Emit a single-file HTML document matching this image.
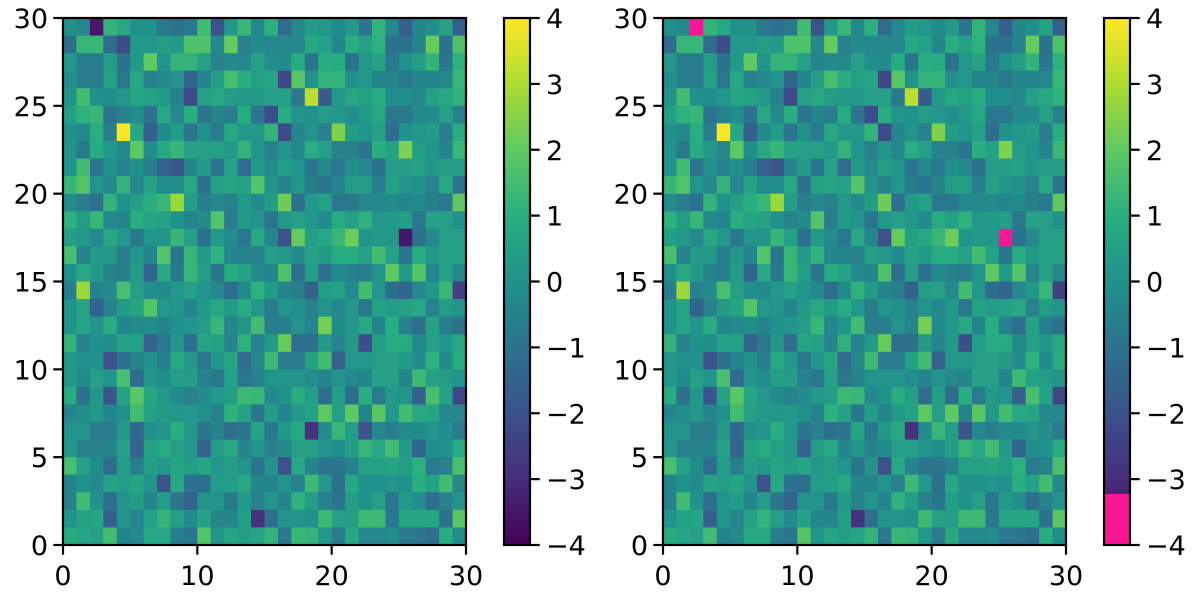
<!DOCTYPE html>
<html><head><meta charset="utf-8"><style>
html,body{margin:0;padding:0;background:#fff;}
svg{display:block;}
text{font-family:"DejaVu Sans","Liberation Sans",sans-serif;font-size:27px;fill:#000;}
</style></head><body>
<svg id="fig" width="1200" height="600" viewBox="0 0 1200 600" xmlns="http://www.w3.org/2000/svg"></svg>
<script>
// Data: rows listed from top (y=29) to bottom (y=0), columns x=0..29
const rowsTopToBottom = [
[0,-0.3,-3.5,1.2,0.8,0,0,-0.8,-1,-0.8,1.5,-2,0.2,1.3,-0.3, 1.1,-1.2,-0.3,0.4,0.2,-0.2,0.3,-0.9,1.2,-0.3,-1.6,-0.4,-0.1,0.6,-1.6],
[-1.2,1.3,1.3,-1.2,-2.2,0.2,0.2,0.4,0.3,1.7,1.7,-0.3,2.1,-0.5,-0.2, -0.3,-0.3,-0.3,0.8,0.6,-0.4,1.0,0.5,1.1,-1.0,-1.0,-0.4,2.1,-1.0,1.7],
[0.2,-0.6,-0.6,0.4,-1,0.3,2,0.1,1.2,1.2,0.5,-0.5,-0.2,-0.3,0.5, -0.1,-0.2,0.9,-0.9,1.0,0.9,-1.0,0.2,0.6,-0.8,0,0.4,1.2,-0.9,1.1],
[-0.1,-0.6,-0.6,0.6,-0.8,0.8,-0.5,-0.3,0.1,-1.4,-0.4,0.4,1.6,1.0,0.5, 0.7,-2.3,1.9,0.1,1.2,1.2,-0.1,0.2,-0.4,-0.4,-0.8,-0.4,-0.4,-0.3,1.3],
[0.1,1.5,0,-0.1,0.2,0.7,0.6,0.3,-0.5,-2.2,0.5,0.8,0.4,0.3,0.3, 0.5,0.5,-0.8,3.2,-1.7,0.2,0.8,0.6,0.9,-0.1,-0.1,-0.3,0.6,0.8,1.1],
[0.5,1.1,1.3,-0.9,-0.5,-0.1,-1.0,0.8,-0.3,1.0,-0.9,-0.4,-0.6,0.9,-0.9, -2.1,0.9,0.1,0,0.4,0.2,-0.1,0.3,0.8,-0.8,-0.8,-0.2,-0.2,0.5,-0.5],
[0,-0.3,1.0,-0.6,4,0.8,-1.6,-0.2,0.4,-0.9,0,-0.7,0.8,0.2,0.2, 1.2,-2.2,-0.4,0.1,-0.5,2.4,0.4,0.1,0.6,-1.2,0,0.2,0.4,-0.6,0.9],
[0.1,-0.8,0.9,0.2,-0.3,2.0,-0.1,0.8,1.3,0.6,0.5,0.5,0.2,1.2,0.1, -0.5,0.1,-0.3,1.0,0.5,-0.5,-0.5,-0.9,1.0,0.6,2.4,0.4,0.1,-0.4,1.3],
[0.1,1.5,-0.9,0,-0.5,0,-0.6,-1.5,-1.9,-0.4,0.3,-0.9,0.6,-1.2,0.2, -0.2,0.4,0.1,-0.9,-0.3,-0.8,0,-0.3,-1.0,0.4,0.4,0.6,0.2,0.4,0.4],
[1.3,1.8,0.1,-0.3,1.2,-0.4,0.6,-0.1,-0.1,0.8,-1.1,0.6,0.7,0.6,1.8, 0.1,-0.4,0.2,-0.6,-0.9,-0.4,0.4,0.4,-0.6,0.6,0.1,0,-0.5,0.8,-0.9],
[-0.2,-0.6,-1.0,1.2,0,0.5,1.0,1.3,2.8,0.4,-0.6,-0.3,-0.5,0.3,-0.2, 0.4,2.2,-1.1,0.2,0.6,-0.8,-0.8,-0.3,-0.3,-0.2,-0.4,-0.2,-0.6,-0.8,2.0],
[1.1,0.4,1.3,-0.3,-0.4,1.0,0.7,0.6,0,-0.4,-0.2,1.8,-0.7,0.3,0.1, -0.9,0.2,0.5,0.2,-0.2,0.9,0.5,1.1,0.2,0.3,0.4,-0.8,0.6,0.5,0],
[0.5,0.2,-0.3,0.8,0.2,-0.8,0.1,0.1,1.3,0.5,-1.0,0.3,-0.2,-0.8,0.8, -0.4,-2.0,2.1,0.5,0.8,1.3,2.2,0.1,0.3,0.2,-3.5,-1.0,-0.3,0.5,0.5],
[1.6,-0.5,0.3,0.3,-0.6,0.2,-0.4,1.8,-0.9,1.3,0.3,1.1,-0.4,-0.4,-0.5, 0.5,0.2,-0.2,0.6,0.3,0.9,0.9,0.5,1.5,0.6,-0.9,0.9,0.3,0.6,0.6],
[0,0.8,0.3,-0.4,-0.6,0.4,-1.4,0.8,-0.8,1.3,0.4,-0.9,0.9,0.6,-0.3, -0.4,1.7,-1.1,0.4,-1.0,-0.2,-0.5,-0.6,0.1,2.0,0.3,1.8,-0.4,0.6,-0.3],
[-0.6,2.8,-0.5,-0.2,1.6,0.5,-0.1,-0.2,0.2,0.5,0.1,-0.3,-1.2,-0.2,1.1, 0.3,-0.4,-0.6,-1.5,0.4,0.5,-0.3,1.5,0.2,-1.1,-1.4,-0.3,0.2,1.3,-2.5],
[0.1,0.7,-1.4,-0.5,0.3,0.7,1.8,0.2,0.1,-0.4,0.3,0.8,0.3,0.9,0.2, -0.7,0.1,0,-0.5,0.1,-0.3,0.2,-0.8,0.6,0.4,0.5,0.8,-0.5,0.4,0.1],
[0.1,0.7,0.1,1.0,-0.4,-0.2,-0.1,-0.4,0,0.1,0.4,1.3,-0.4,0.1,1.5, -0.6,-0.6,0.1,-0.4,2.3,-0.2,0.2,0.8,-0.4,1.0,-0.5,-1.1,0.6,-0.6,-1.0],
[1.2,-0.5,0,-0.1,0.6,0.6,-1.5,-0.8,0.2,-1.1,0.7,0.6,-0.5,1.1,-0.5, 0.3,2.1,-1.1,-1.1,0.3,-0.5,0.3,-2.1,0.4,0.9,0.9,-0.3,0.5,0.1,0.8],
[0.2,0,0,-2.0,-1.0,-0.4,0,-0.6,0.8,0.2,-0.8,0.1,0.7,-1.2,-0.3, 1.4,-0.6,-0.7,0.6,1.5,-1.5,0.2,0.2,0.5,0.5,0.3,-0.2,1.1,-0.2,0.9],
[0.2,-0.2,0.5,0.1,1.6,-1.2,0.1,-0.1,0.4,0.4,-0.5,-0.8,0.5,-0.8,-0.5, 0.1,0.1,0.1,-0.1,-0.4,0.1,-0.3,-0.4,0.5,0.5,-0.4,1.4,0.6,0.4,0.1],
[0.9,-1.0,0.2,-1.9,0.6,1.9,0.7,0.2,-0.2,-0.5,-0.2,0.2,0.4,1.4,1.3, -0.3,0,1.0,0.4,-1.2,0.4,-1.2,1.0,-0.7,0.3,0.1,-1.6,1.6,0.6,-2.3],
[-0.4,-0.1,0.2,-0.4,0,1.5,0.5,0.3,0.2,0.2,0,-0.5,1.1,0.5,-0.9, 0.4,-0.4,0.3,0.6,2.0,0.5,2.0,-0.4,1.9,0.2,1.5,0.8,0.7,-0.3,-0.3],
[0.1,0.1,-0.6,-0.7,0.3,-1.3,0,0.1,1.0,0.2,-0.9,-0.5,-1.1,-0.9,0.7, -0.8,0.3,0.8,-2.9,-0.2,1.3,0.4,-2.0,-0.3,-0.6,-0.2,-0.2,0.1,-0.1,-0.7],
[0.2,-0.5,-0.5,-0.4,0.5,-1.5,0.6,0.9,0.5,0.2,-1.5,0.4,0.8,-0.4,0.1, -0.5,-0.2,0.5,0.5,0.1,-0.1,0.5,1.3,0.8,1.5,0.3,-1.4,-0.1,0,0.9],
[1.6,0.5,-0.1,-1.2,0.4,-0.6,0.4,0.2,0.7,0.4,0.7,0.2,0.4,0.1,-0.9, 0.1,-2.0,0.8,-0.4,-0.9,-0.9,-0.5,0.5,0.5,0.7,0.4,1.1,-0.7,-0.5,1.6],
[-0.4,0,-0.3,0.6,0.4,0.7,0.1,-2.0,0.8,-1.0,-1.1,0.4,0.4,0.8,-0.4, -0.4,0.1,-0.5,1.4,0.2,-1.0,0.8,0,0,0.1,0,1.0,0.6,1.5,-0.3],
[-0.5,1.5,0,-1.1,0.1,0.4,-0.4,0.4,-0.9,-1.4,0.1,0.1,-0.8,0.3,-0.5, 0.1,-0.4,1.1,0.4,-0.5,-0.9,0.4,0,0.5,-0.9,0.3,-0.1,-1.2,-0.5,0.1],
[0.1,0.6,0.7,-1.6,0.1,-0.4,0.6,1.2,0.5,-0.2,0.6,-0.4,-0.4,0.4,-2.9, -1.1,0.1,0.1,0,1.4,0.5,0.4,1.4,1.4,-0.8,0.7,0.7,0.7,-1.0,1.9],
[0.9,0.7,0.5,1.5,-0.4,-0.3,0.8,0.8,-0.6,-0.9,1.8,0.1,0.7,0.4,0.7, 1.2,-0.8,1.3,1.2,0.2,-0.7,0.8,-0.3,-0.3,-0.1,-0.8,-0.9,-1.1,1.0,-0.1]
];
const xTicks = [0,10,20,30];
const yTicks = [0,5,10,15,20,25,30];
const cbTicks = [-4,-3,-2,-1,0,1,2,3,4];
const vmin = -4, vmax = 4;

const NS = "http://www.w3.org/2000/svg";
const svg = document.getElementById('fig');
const VIR = ["#440154","#472d7b","#3b528b","#2c728e","#21918c","#28ae80","#5ec962","#addc30","#fde725"];
function hex(h){return [parseInt(h.substr(1,2),16),parseInt(h.substr(3,2),16),parseInt(h.substr(5,2),16)];}
function viridis(t){
  t=Math.max(0,Math.min(1,t));
  const p=t*(VIR.length-1), i=Math.min(VIR.length-2,Math.floor(p)), f=p-i;
  const a=hex(VIR[i]), b=hex(VIR[i+1]);
  return `rgb(${a.map((v,k)=>Math.round(v+(b[k]-v)*f)).join(',')})`;
}
function pinkmap(t){ return t < 25/256 ? "#f81894" : viridis(t); }
function mk(tag, attrs, parent){
  const e=document.createElementNS(NS,tag);
  for(const k in attrs) e.setAttribute(k, attrs[k]);
  (parent||svg).appendChild(e); return e;
}
function fmt(v){ return v<0 ? "\u2212"+Math.abs(v) : String(v); }

function panel(ox, cbx, cmap, tag){
  const L=ox, R=ox+403, T=18, B=545;
  const xs=v=>L+(v/30)*(R-L), ys=v=>B-(v/30)*(B-T);
  const g=mk('g',{});
  
  
  const n=rowsTopToBottom.length;
  rowsTopToBottom.forEach((row,ri)=>{
    const yv=n-1-ri;
    row.forEach((v,ci)=>{
      const r=mk('rect',{x:xs(ci),y:ys(yv+1),width:xs(ci+1)-xs(ci)+0.6,height:ys(yv)-ys(yv+1)+0.6,fill:cmap((v-vmin)/(vmax-vmin))},g);
      
      
    });
  });
  const fr=mk('rect',{x:L,y:T,width:R-L,height:B-T,fill:'none',stroke:'#000','stroke-width':2.2});
  
  
  xTicks.forEach(v=>{
    mk('line',{x1:xs(v),x2:xs(v),y1:B,y2:B+9.7,stroke:'#000','stroke-width':2.2});
    const t=mk('text',{x:xs(v),y:B+40,'text-anchor':'middle'}); t.textContent=fmt(v);
    
    
  });
  yTicks.forEach(v=>{
    mk('line',{x1:L-9.7,x2:L,y1:ys(v),y2:ys(v),stroke:'#000','stroke-width':2.2});
    const t=mk('text',{x:L-15,y:ys(v)+10,'text-anchor':'end'}); t.textContent=fmt(v);
    
    
  });
  // colorbar
  const cw=26, cs=v=>B-((v-vmin)/(vmax-vmin))*(B-T);
  const cg=mk('g',{});
  
  
  const N=256;
  for(let i=0;i<N;i++){
    const y0=B-(i+1)/N*(B-T), y1=B-i/N*(B-T);
    mk('rect',{x:cbx,y:y0,width:cw,height:y1-y0+0.5,fill:cmap((i+0.5)/N)},cg);
  }
  mk('rect',{x:cbx,y:T,width:cw,height:B-T,fill:'none',stroke:'#000','stroke-width':2.2},cg);
  cbTicks.forEach(v=>{
    mk('line',{x1:cbx+cw,x2:cbx+cw+9.7,y1:cs(v),y2:cs(v),stroke:'#000','stroke-width':2.2},cg);
    const t=mk('text',{x:cbx+cw+16,y:cs(v)+10},cg); t.textContent=fmt(v);
    
    
  });
}
panel(63, 504, viridis, 'left');
panel(663, 1104, pinkmap, 'right');
</script>
</body></html>
